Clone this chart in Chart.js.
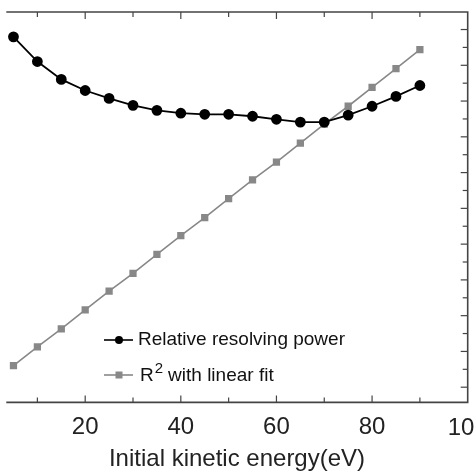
<!DOCTYPE html>
<html><head><meta charset="utf-8">
<script src="https://cdn.jsdelivr.net/npm/chart.js@4"></script>
<style>html,body{margin:0;padding:0;background:#fff}#w{width:474px;height:474px}</style>
</head><body><div id="w"><canvas id="c"></canvas></div>
<script>
const energies=[5,10,15,20,25,30,35,40,45,50,55,60,65,70,75,80,85,90];
const resolvingPower=[20.44,19.06,18.06,17.44,17.0,16.61,16.33,16.17,16.11,16.11,16.0,15.83,15.67,15.67,16.06,16.56,17.11,17.72];
const r2Linear=[2.06,3.11,4.11,5.17,6.22,7.22,8.28,9.33,10.33,11.39,12.44,13.44,14.5,15.56,16.56,17.61,18.67,19.72];
const xTickLabels=['20','40','60','80','100'];
const seriesNames=['Relative resolving power','with linear fit'];
const FONT='"Liberation Sans", Arial, sans-serif';
const frame={id:'frame',afterDraw(ch){
 const c=ch.ctx,a=ch.chartArea,x=ch.scales.x,y=ch.scales.y;
 c.save();c.strokeStyle='#444';c.lineWidth=1.6;
 c.beginPath();c.moveTo(a.left,a.top);c.lineTo(a.right,a.top);c.lineTo(a.right,a.bottom);c.lineTo(a.left,a.bottom);c.stroke();
 c.lineWidth=1.2;
 for(let v=10;v<100;v+=10){const p=x.getPixelForValue(v);const L=v%20===0?7:5;
  c.beginPath();c.moveTo(p,a.bottom);c.lineTo(p,a.bottom-L);c.moveTo(p,a.top);c.lineTo(p,a.top+L);c.stroke();}
 for(let v=0.85;v<21.5;v+=1){const p=y.getPixelForValue(v);const L=Math.round(v-0.85)%2===0?7:5;
  c.beginPath();c.moveTo(a.right,p);c.lineTo(a.right-L,p);c.stroke();}
 c.fillStyle='#222';c.font='24px '+FONT;c.textAlign='center';c.textBaseline='middle';
 c.fillText(xTickLabels[4],x.getPixelForValue(100),428);
 c.lineWidth=1.6;c.strokeStyle='#000';c.beginPath();c.moveTo(104,340);c.lineTo(133,340);c.stroke();
 c.fillStyle='#000';c.beginPath();c.arc(119,340,4,0,Math.PI*2);c.fill();
 c.strokeStyle='#888';c.beginPath();c.moveTo(104,375);c.lineTo(133,375);c.stroke();
 c.fillStyle='#888';c.fillRect(115.5,371.5,7,7);
 c.fillStyle='#111';c.textAlign='left';c.font='19px '+FONT;
 c.fillText(seriesNames[0],138,340);
 c.fillText('R',140,376);const w=c.measureText('R').width;
 c.font='15px '+FONT;c.fillText('2',140+w+1,369);const w2=c.measureText('2').width;
 c.font='19px '+FONT;c.fillText(seriesNames[1],140+w+w2+6,376);
 c.restore();}};
new Chart(document.getElementById('c'),{type:'line',
 data:{labels:energies,datasets:[
  {data:energies.map((e,i)=>({x:e,y:resolvingPower[i]})),borderColor:'#000',backgroundColor:'#000',borderWidth:1.8,pointRadius:4.5,pointStyle:'circle',tension:0},
  {data:energies.map((e,i)=>({x:e,y:r2Linear[i]})),borderColor:'#888',backgroundColor:'#888',borderWidth:1.6,pointRadius:4,pointStyle:'rect',tension:0}]},
 options:{responsive:true,maintainAspectRatio:false,animation:false,
  layout:{padding:{top:12,right:1,left:-6,bottom:0}},
  plugins:{legend:{display:false},tooltip:{enabled:false}},
  scales:{
   x:{type:'linear',min:3.5,max:100,grid:{display:false},border:{display:false},
    afterBuildTicks(s){s.ticks=[20,40,60,80].map(v=>({value:v}));},
    ticks:{autoSkip:false,maxRotation:0,padding:3,color:'#222',font:{size:24,family:FONT},callback:(v)=>xTickLabels[[20,40,60,80].indexOf(v)]},
    title:{display:true,text:'Initial kinetic energy(eV)',color:'#222',font:{size:24,family:FONT},padding:{top:0,bottom:0}}},
   y:{display:false,min:0,max:21.83}}},
 plugins:[frame]});
</script></body></html>
